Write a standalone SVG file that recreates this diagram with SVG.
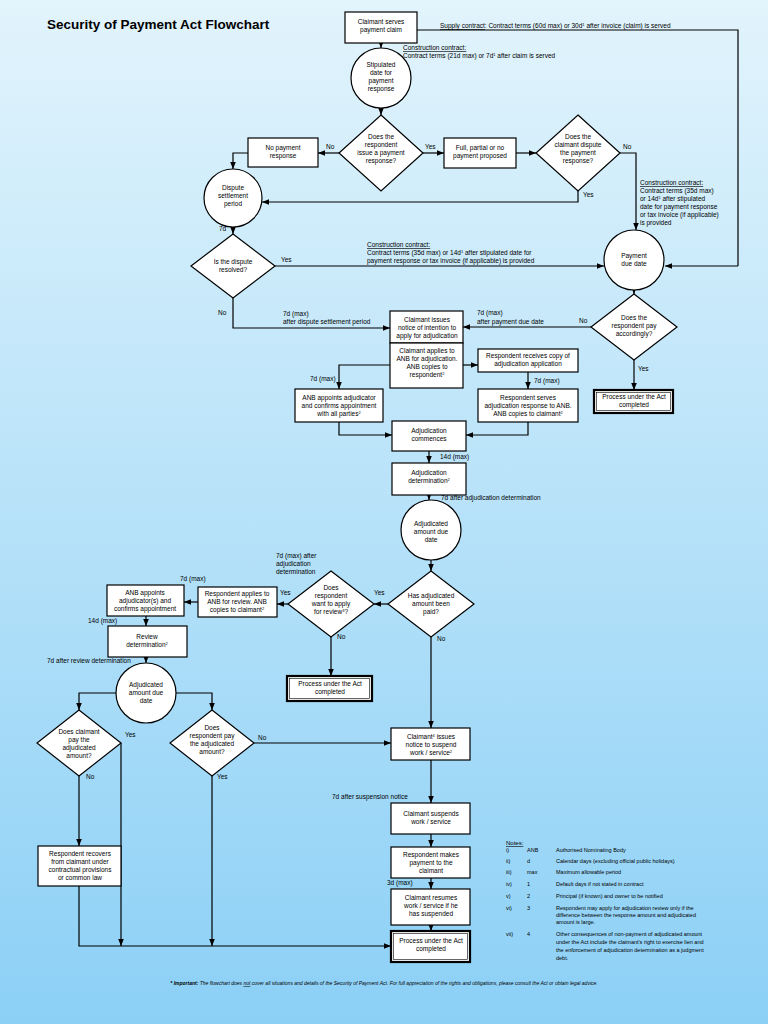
<svg xmlns="http://www.w3.org/2000/svg" width="768" height="1024" viewBox="0 0 768 1024">
<defs>
<linearGradient id="bg" x1="0" y1="0" x2="0" y2="1"><stop offset="0" stop-color="#e2f4fc"/><stop offset="1" stop-color="#8cd0f6"/></linearGradient>
<marker id="a" viewBox="0 0 10 10" refX="10" refY="5" markerWidth="6" markerHeight="6" orient="auto"><path d="M0,1 L10,5 L0,9 z" fill="#000"/></marker>
<style>
text{font-family:"Liberation Sans",Arial,sans-serif;font-size:6.5px;fill:#000}
.n text{text-anchor:middle}
.n rect,.n circle,.n polygon{fill:#fff;stroke:#000;stroke-width:1.2}
.d rect.o{fill:#fff;stroke:#000;stroke-width:2.2}
.d rect.i{fill:none;stroke:#000;stroke-width:0.6}
#c path{fill:none;stroke:#000;stroke-width:1.2;marker-end:url(#a)}
#c path.p{marker-end:none}
.s{font-size:4px;baseline-shift:super}
.u{text-decoration:underline}
.nt text{font-size:5.5px}
</style>
</defs>
<rect width="768" height="1024" fill="url(#bg)"/>
<text x="47" y="29" style="font-size:13.5px;font-weight:bold">Security of Payment Act Flowchart</text>

<g id="c">
<path class="p" d="M417,30 H738 V266"/><path d="M738,266 H665"/>
<path d="M381,43 V48"/>
<path d="M381,108 V115"/>
<path d="M339,153 H318"/>
<path d="M248,153 H233 V169"/>
<path d="M423,153 H444"/>
<path d="M516,153 H536"/>
<path d="M620,153 H636 V230"/>
<path d="M578,191 V202 H262"/>
<path d="M233,227 V234"/>
<path d="M275,266 H604"/>
<path d="M233,298 V328 H390"/>
<path d="M634,290 V294"/>
<path d="M591,327 H463"/>
<path d="M634,360 V390"/>
<path d="M463,365 H478"/>
<path d="M390,365 H339 V389"/>
<path d="M528,372 V389"/>
<path d="M339,422 V435 H392"/>
<path d="M528,422 V435 H466"/>
<path d="M429,451 V463"/>
<path d="M429,495 V500"/>
<path d="M431,560 V571"/>
<path d="M388,604 H374"/>
<path d="M431,637 V728"/>
<path d="M288,604 H277"/>
<path d="M331,637 V676"/>
<path d="M198,602 H184"/>
<path d="M146,616 V626"/>
<path d="M146,657 V663"/>
<path d="M116,693 H79 V710"/>
<path d="M176,693 H212 V710"/>
<path d="M79,776 V846"/>
<path d="M121,743 V946"/>
<path d="M254,743 H391"/>
<path d="M212,776 V946"/>
<path d="M79,886 V946 H391"/>
<path d="M431,760 V803"/>
<path d="M431,834 V847"/>
<path d="M431,878 V889"/>
<path d="M431,925 V931"/>
</g>

<g id="labels">
<text x="440" y="28"><tspan class="u">Supply contract</tspan>: Contract terms (60d max) or 30d<tspan class="s">1</tspan> after invoice (claim) is served</text>
<text x="403" y="50" class="u">Construction contract:</text>
<text x="403" y="58">Contract terms (21d max) or 7d<tspan class="s">1</tspan> after claim is served</text>
<text x="326" y="149">No</text>
<text x="425" y="149">Yes</text>
<text x="623" y="149">No</text>
<text x="583" y="197">Yes</text>
<text x="640" y="185" class="u">Construction contract:</text>
<text x="640" y="193">Contract terms (35d max)</text>
<text x="640" y="201">or 14d<tspan class="s">1</tspan> after stipulated</text>
<text x="640" y="209">date for payment response</text>
<text x="640" y="217">or tax invoice (if applicable)</text>
<text x="640" y="225">is provided</text>
<text x="219" y="231">7d</text>
<text x="367" y="247" class="u">Construction contract:</text>
<text x="367" y="255">Contract terms (35d max) or 14d<tspan class="s">1</tspan> after stipulated date for</text>
<text x="367" y="263">payment response or tax invoice (if applicable) is provided</text>
<text x="281" y="262">Yes</text>
<text x="218" y="315">No</text>
<text x="283" y="316">7d (max)</text>
<text x="283" y="324">after dispute settlement period</text>
<text x="477" y="315">7d (max)</text>
<text x="477" y="324">after payment due date</text>
<text x="579" y="323">No</text>
<text x="638" y="371">Yes</text>
<text x="310" y="381">7d (max)</text>
<text x="534" y="383">7d (max)</text>
<text x="440" y="459">14d (max)</text>
<text x="441" y="500">7d after adjudication determination</text>
<text x="276" y="558">7d (max) after</text>
<text x="276" y="566">adjudication</text>
<text x="276" y="574">determination</text>
<text x="374" y="595">Yes</text>
<text x="280" y="595">Yes</text>
<text x="180" y="581">7d (max)</text>
<text x="437" y="641">No</text>
<text x="337" y="639">No</text>
<text x="88" y="623">14d (max)</text>
<text x="47" y="663">7d after review determination</text>
<text x="125" y="737">Yes</text>
<text x="258" y="740">No</text>
<text x="86" y="779">No</text>
<text x="217" y="779">Yes</text>
<text x="332" y="799">7d after suspension notice</text>
<text x="387" y="885">3d (max)</text>
</g>

<g id="n1" class="n"><rect x="345" y="12" width="72" height="31"/><text x="381" y="24">Claimant serves</text><text x="381" y="32">payment claim</text></g>
<g id="n2" class="n"><circle cx="381" cy="78" r="30"/><text x="381" y="67">Stipulated</text><text x="381" y="75">date for</text><text x="381" y="83">payment</text><text x="381" y="91">response</text></g>
<g id="n3" class="n"><polygon points="381,115 423,153 381,191 339,153"/><text x="381" y="139">Does the</text><text x="381" y="147">respondent</text><text x="381" y="155">issue a payment</text><text x="381" y="163">response?</text></g>
<g id="n4" class="n"><rect x="248" y="138" width="70" height="29"/><text x="283" y="150">No payment</text><text x="283" y="158">response</text></g>
<g id="n5" class="n"><rect x="444" y="138" width="72" height="30"/><text x="480" y="150">Full, partial or no</text><text x="480" y="158">payment proposed</text></g>
<g id="n6" class="n"><polygon points="578,115 620,153 578,191 536,153"/><text x="578" y="139">Does the</text><text x="578" y="147">claimant dispute</text><text x="578" y="155">the payment</text><text x="578" y="163">response?</text></g>
<g id="n7" class="n"><circle cx="233" cy="198" r="29"/><text x="233" y="190">Dispute</text><text x="233" y="198">settlement</text><text x="233" y="206">period</text></g>
<g id="n8" class="n"><polygon points="233,234 275,266 233,298 191,266"/><text x="233" y="264">Is the dispute</text><text x="233" y="272">resolved?</text></g>
<g id="n9" class="n"><circle cx="634" cy="260" r="30"/><text x="634" y="258">Payment</text><text x="634" y="266">due date</text></g>
<g id="n10" class="n"><polygon points="634,294 677,327 634,360 591,327"/><text x="634" y="320">Does the</text><text x="634" y="328">respondent pay</text><text x="634" y="336">accordingly?</text></g>
<g id="n11" class="n d"><rect class="o" x="594" y="390" width="79" height="23"/><rect class="i" x="596.5" y="392.5" width="74" height="18"/><text x="634" y="399">Process under the Act</text><text x="634" y="407">completed</text></g>
<g id="n12" class="n"><rect x="390" y="311" width="73" height="32"/><text x="427" y="322">Claimant issues</text><text x="427" y="330">notice of intention to</text><text x="427" y="338">apply for adjudication</text></g>
<g id="n13" class="n"><rect x="390" y="343" width="73" height="45"/><text x="427" y="353">Claimant applies to</text><text x="427" y="361">ANB for adjudication.</text><text x="427" y="369">ANB copies to</text><text x="427" y="377">respondent<tspan class="s">2</tspan></text></g>
<g id="n14" class="n"><rect x="478" y="349" width="100" height="23"/><text x="528" y="358">Respondent receives copy of</text><text x="528" y="366">adjudication application</text></g>
<g id="n15" class="n"><rect x="478" y="389" width="100" height="33"/><text x="528" y="400">Respondent serves</text><text x="528" y="408">adjudication response to ANB.</text><text x="528" y="416">ANB copies to claimant<tspan class="s">2</tspan></text></g>
<g id="n16" class="n"><rect x="295" y="389" width="88" height="33"/><text x="339" y="400">ANB appoints adjudicator</text><text x="339" y="408">and confirms appointment</text><text x="339" y="416">with all parties<tspan class="s">2</tspan></text></g>
<g id="n17" class="n"><rect x="392" y="421" width="74" height="30"/><text x="429" y="433">Adjudication</text><text x="429" y="441">commences</text></g>
<g id="n18" class="n"><rect x="392" y="463" width="74" height="32"/><text x="429" y="475">Adjudication</text><text x="429" y="483">determination<tspan class="s">2</tspan></text></g>
<g id="n19" class="n"><circle cx="431" cy="530" r="30"/><text x="431" y="526">Adjudicated</text><text x="431" y="534">amount due</text><text x="431" y="542">date</text></g>
<g id="n20" class="n"><polygon points="431,571 474,604 431,637 388,604"/><text x="431" y="598">Has adjudicated</text><text x="431" y="606">amount been</text><text x="431" y="614">paid?</text></g>
<g id="n21" class="n"><polygon points="331,571 374,604 331,637 288,604"/><text x="331" y="590">Does</text><text x="331" y="598">respondent</text><text x="331" y="606">want to apply</text><text x="331" y="614">for review<tspan class="s">3</tspan>?</text></g>
<g id="n22" class="n"><rect x="198" y="587" width="79" height="30"/><text x="237" y="596">Respondent applies to</text><text x="237" y="604">ANB for review. ANB</text><text x="237" y="612">copies to claimant<tspan class="s">2</tspan></text></g>
<g id="n23" class="n"><rect x="107" y="585" width="77" height="31"/><text x="145" y="595">ANB appoints</text><text x="145" y="603">adjudicator(s) and</text><text x="145" y="611">confirms appointment</text></g>
<g id="n24" class="n"><rect x="108" y="626" width="79" height="31"/><text x="147" y="639">Review</text><text x="147" y="647">determination<tspan class="s">2</tspan></text></g>
<g id="n25" class="n"><circle cx="146" cy="693" r="30"/><text x="146" y="687">Adjudicated</text><text x="146" y="695">amount due</text><text x="146" y="703">date</text></g>
<g id="n26" class="n"><polygon points="79,710 121,743 79,776 37,743"/><text x="79" y="734">Does claimant</text><text x="79" y="742">pay the</text><text x="79" y="750">adjudicated</text><text x="79" y="758">amount?</text></g>
<g id="n27" class="n"><polygon points="212,710 254,743 212,776 170,743"/><text x="212" y="730">Does</text><text x="212" y="738">respondent pay</text><text x="212" y="746">the adjudicated</text><text x="212" y="754">amount?</text></g>
<g id="n28" class="n d"><rect class="o" x="287" y="676" width="85" height="25"/><rect class="i" x="289.5" y="678.5" width="80" height="20"/><text x="330" y="686">Process under the Act</text><text x="330" y="694">completed</text></g>
<g id="n29" class="n"><rect x="391" y="728" width="79" height="32"/><text x="431" y="739">Claimant<tspan class="s">4</tspan> issues</text><text x="431" y="747">notice to suspend</text><text x="431" y="755">work / service<tspan class="s">2</tspan></text></g>
<g id="n30" class="n"><rect x="391" y="803" width="79" height="31"/><text x="431" y="816">Claimant suspends</text><text x="431" y="824">work / service</text></g>
<g id="n31" class="n"><rect x="391" y="847" width="79" height="31"/><text x="431" y="857">Respondent makes</text><text x="431" y="865">payment to the</text><text x="431" y="873">claimant</text></g>
<g id="n32" class="n"><rect x="391" y="889" width="79" height="36"/><text x="431" y="900">Claimant resumes</text><text x="431" y="908">work / service if he</text><text x="431" y="916">has suspended</text></g>
<g id="n33" class="n d"><rect class="o" x="391" y="931" width="79" height="31"/><rect class="i" x="393.5" y="933.5" width="74" height="26"/><text x="431" y="943">Process under the Act</text><text x="431" y="951">completed</text></g>
<g id="n34" class="n"><rect x="38" y="846" width="83" height="40"/><text x="80" y="856">Respondent recovers</text><text x="80" y="864">from claimant under</text><text x="80" y="872">contractual provisions</text><text x="80" y="880">or common law</text></g>

<g id="notes" class="nt">
<text x="506" y="845" class="u" style="font-size:6px">Notes:</text>
<text x="506" y="852">i)</text><text x="527" y="852">ANB</text><text x="556" y="852">Authorised Nominating Body</text>
<text x="506" y="863">ii)</text><text x="527" y="863">d</text><text x="556" y="863">Calendar days (excluding official public holidays)</text>
<text x="506" y="874">iii)</text><text x="527" y="874">max</text><text x="556" y="874">Maximum allowable period</text>
<text x="506" y="886">iv)</text><text x="527" y="886">1</text><text x="556" y="886">Default days if not stated in contract</text>
<text x="506" y="898">v)</text><text x="527" y="898">2</text><text x="556" y="898">Principal (if known) and owner to be notified</text>
<text x="506" y="910">vi)</text><text x="527" y="910">3</text><text x="556" y="910">Respondent may apply for adjudication review only if the</text><text x="556" y="917">difference between the response amount and adjudicated</text><text x="556" y="924">amount is large.</text>
<text x="506" y="936">vii)</text><text x="527" y="936">4</text><text x="556" y="936">Other consequences of non-payment of adjudicated amount</text><text x="556" y="944">under the Act include the claimant's right to exercise lien and</text><text x="556" y="952">the enforcement of adjudication determination as a judgment</text><text x="556" y="960">debt.</text>
</g>
<text x="384" y="985" style="font-size:5px;font-style:italic;text-anchor:middle"><tspan font-weight="bold">* Important:</tspan> The flowchart does <tspan class="u">not</tspan> cover all situations and details of the Security of Payment Act. For full appreciation of the rights and obligations, please consult the Act or obtain legal advice.</text>
</svg>
